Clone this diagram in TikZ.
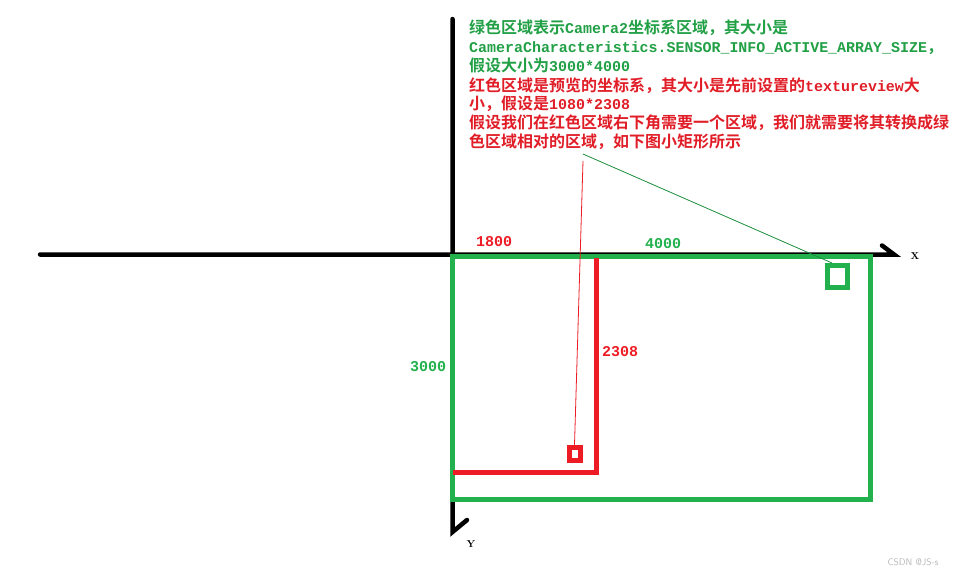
\documentclass[tikz,border=0pt]{standalone}
\usepackage{fontspec}
\newfontfamily\cjkfont{Noto Sans CJK SC}[BoldFont={Noto Sans CJK SC Bold}]
\newfontfamily\monofont{Liberation Mono}[Scale=0.935]
\newfontfamily\numfont{Liberation Mono}
\newcommand\zhtxt[1]{{\cjkfont\bfseries #1}}
\newcommand\latxt[1]{{\monofont\bfseries #1}}
\definecolor{pgreen}{RGB}{34,177,76}
\definecolor{pred}{RGB}{237,28,36}
\definecolor{tgreen}{RGB}{34,160,70}
\definecolor{tred}{RGB}{225,30,40}
\begin{document}
\begin{tikzpicture}[x=1pt,y=-1pt,
  axis/.style={line width=4.5pt,black,line cap=round},
  region/.style={line width=5pt},
  txtline/.style={anchor=base west,inner sep=0pt,font=\fontsize{16}{19}\selectfont},
  numlab/.style={inner sep=0pt,font=\numfont\bfseries\fontsize{15}{15}\selectfont},
  axlab/.style={inner sep=0pt,font=\bfseries\fontsize{10}{10}\selectfont},
  thin/.style={line width=0.8pt}]
\useasboundingbox (0,0) rectangle (956,576);
\fill[white] (0,0) rectangle (956,576);
% axes
\coordinate (xl) at (40,254.5);
\coordinate (xr) at (894,254.5);
\coordinate (xa) at (882,245.5);
\coordinate (yt) at (452.5,19);
\coordinate (yb) at (452.5,532);
\coordinate (ya) at (467,520);
\draw[axis] (xl) -- (xr) -- (xa);
\draw[axis] (yt) -- (yb) -- (ya);
\node[axlab] (xlab) at (915,256) {X};
\node[axlab] (ylab) at (471,544) {Y};
% green region
\draw[region,pgreen] (452.5,256.5) rectangle (870,499);
% red region
\coordinate (r1) at (452.5,472.5);
\coordinate (r2) at (596,472.5);
\coordinate (r3) at (596,258);
\draw[region,pred] (r1) -- (r2) -- (r3);
% small squares
\node[draw=pred,line width=5pt,minimum width=11pt,minimum height=13.5pt,inner sep=0pt] (rsq) at (574.5,454) {};
\node[draw=pgreen,line width=5pt,minimum width=20pt,minimum height=22pt,inner sep=0pt] (gsq) at (837.5,276.5) {};
% labels
\node[numlab,pred] (l1800) at (494,242) {1800};
\node[numlab,pgreen] (l4000) at (663,244) {4000};
\node[numlab,pred] (l2308) at (620,352) {2308};
\node[numlab,pgreen] (l3000) at (428,367) {3000};
% text
\node[txtline,tgreen] (t1) at (469,33) {\zhtxt{绿色区域表示}\latxt{Camera2}\zhtxt{坐标系区域，其大小是}};
\node[txtline,tgreen] (t2) at (469,52.5) {\latxt{CameraCharacteristics.SENSOR\_INFO\_ACTIVE\_ARRAY\_SIZE}\zhtxt{，}};
\node[txtline,tgreen] (t3) at (469,71.5) {\zhtxt{假设大小为}\latxt{3000*4000}};
\node[txtline,tred] (t4) at (469,91) {\zhtxt{红色区域是预览的坐标系，其大小是先前设置的}\latxt{textureview}\zhtxt{大}};
\node[txtline,tred] (t5) at (469,109.5) {\zhtxt{小，假设是}\latxt{1080*2308}};
\node[txtline,tred] (t6) at (469,128) {\zhtxt{假设我们在红色区域右下角需要一个区域，我们就需要将其转换成绿}};
\node[txtline,tred] (t7) at (469,147.5) {\zhtxt{色区域相对的区域，如下图小矩形所示}};
% pointer lines
\coordinate (pr) at (583,161);
\coordinate (pg) at (583,154);
\coordinate (ge) at (832,263);
\draw[thin,pred] (pr) -- (rsq.north);
\draw[thin,pgreen!80!black] (pg) -- (ge);
% watermark
\node[inner sep=0pt,text=black!28,font=\sffamily\fontsize{9.5}{9.5}\selectfont] (wm) at (913,562) {CSDN @JS-s};
\end{tikzpicture}
\end{document}
